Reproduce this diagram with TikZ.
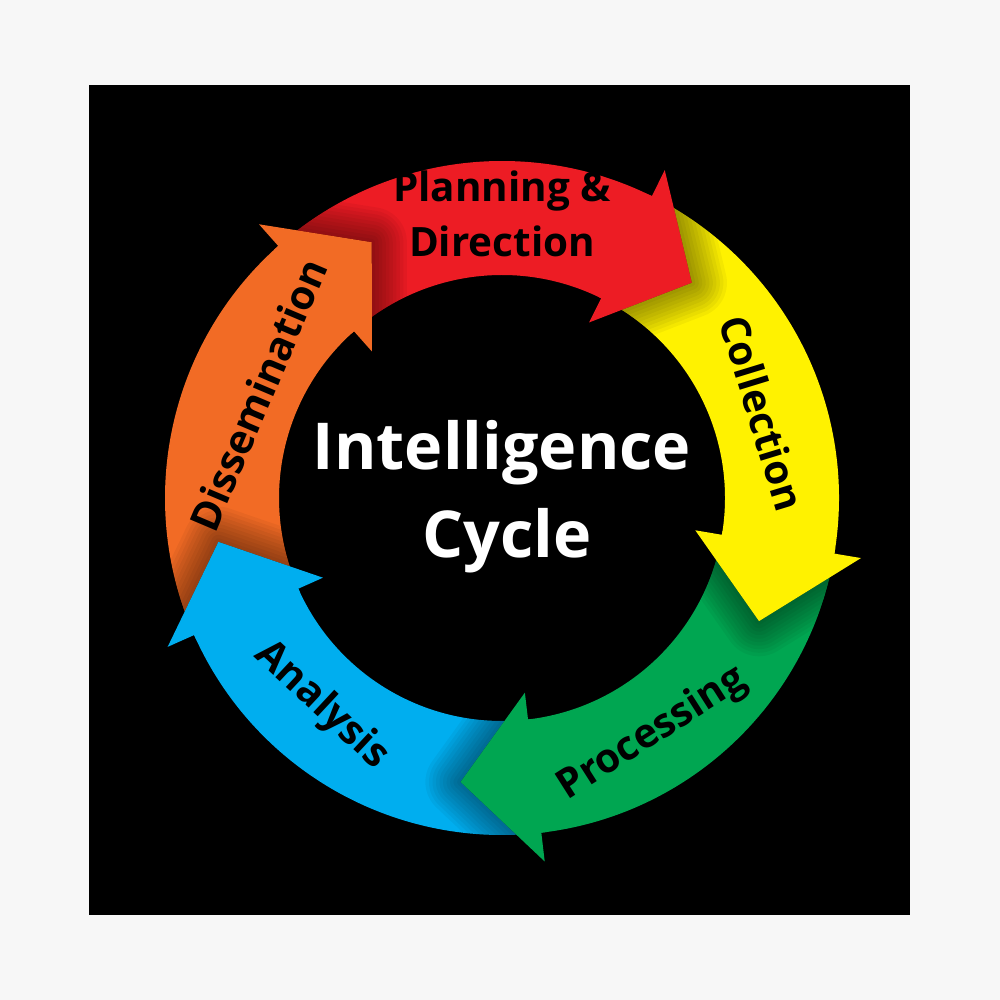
\documentclass[tikz,border=0pt]{standalone}
\usepackage{fontspec}
\setmainfont{Open Sans}
\usepackage{tikz}
\usepackage{xcolor}
\definecolor{pagegrey}{HTML}{F7F7F7}
\definecolor{planred}{HTML}{ED1C24}
\definecolor{collyellow}{HTML}{FFF200}
\definecolor{procgreen}{HTML}{00A651}
\definecolor{anablue}{HTML}{00AEEF}
\definecolor{dissorange}{HTML}{F26B25}

\begin{document}
\begin{tikzpicture}[x=1cm, y=1cm,
  lbl/.style={font=\fontsize{11.5}{13}\selectfont\bfseries, text=black, inner sep=0pt},
  title/.style={font=\fontsize{18.4}{22}\selectfont\bfseries, text=white, inner sep=0pt},
  shade/.style={draw=black, fill=black, opacity=0.045, line join=round}]
  \useasboundingbox (0,0) rectangle (10,10);
  \fill[pagegrey] (0,0) rectangle (10,10);
  \fill[black] (0.89,0.85) rectangle (9.10,9.15);

  \begin{scope}[shift={(5.02,5.02)}]
  % ring pieces
  \fill[planred] (131.6:3.37) arc[start angle=131.6, end angle=63.6, radius=3.37]
    -- (63.6:2.23) arc[start angle=63.6, end angle=131.6, radius=2.23] -- cycle;
  \fill[collyellow] (63.6:3.37) arc[start angle=63.6, end angle=-9.5, radius=3.37]
    -- (-9.5:2.23) arc[start angle=-9.5, end angle=63.6, radius=2.23] -- cycle;
  \fill[procgreen] (-9.5:3.37) arc[start angle=-9.5, end angle=-83.3, radius=3.37]
    -- (-83.3:2.23) arc[start angle=-83.3, end angle=-9.5, radius=2.23] -- cycle;
  \fill[anablue] (-83.3:3.37) arc[start angle=-83.3, end angle=-156, radius=3.37]
    -- (-156:2.23) arc[start angle=-156, end angle=-83.3, radius=2.23] -- cycle;
  \fill[dissorange] (-156:3.37) arc[start angle=-156, end angle=-228.4, radius=3.37]
    -- (-228.4:2.23) arc[start angle=-228.4, end angle=-156, radius=2.23] -- cycle;

  % soft shadows of the heads
  \begin{scope}
    \clip (63.6:3.37) arc[start angle=63.6, end angle=25, radius=3.37]
      -- (25:2.23) arc[start angle=25, end angle=63.6, radius=2.23] -- cycle;
    \foreach \w in {2,4,...,20}
      \draw[shade, line width=\w pt] (63.6:3.66) -- (48.6:2.87) -- (63.6:1.96) -- cycle;
  \end{scope}
  \begin{scope}
    \clip (-9.5:3.37) arc[start angle=-9.5, end angle=-50, radius=3.37]
      -- (-50:2.23) arc[start angle=-50, end angle=-9.5, radius=2.23] -- cycle;
    \foreach \w in {2,4,...,20}
      \draw[shade, line width=\w pt] (-9.5:3.64) -- (-25.6:2.85) -- (-9.5:1.96) -- cycle;
  \end{scope}
  \begin{scope}
    \clip (-83.3:3.37) arc[start angle=-83.3, end angle=-125, radius=3.37]
      -- (-125:2.23) arc[start angle=-125, end angle=-83.3, radius=2.23] -- cycle;
    \foreach \w in {2,4,...,20}
      \draw[shade, line width=\w pt] (-83.3:3.66) -- (-98.3:2.87) -- (-83.3:1.96) -- cycle;
  \end{scope}
  \begin{scope}
    \clip (-156:3.37) arc[start angle=-156, end angle=-195, radius=3.37]
      -- (-195:2.23) arc[start angle=-195, end angle=-156, radius=2.23] -- cycle;
    \foreach \w in {2,4,...,20}
      \draw[shade, line width=\w pt] (-156:3.66) -- (-171.2:2.87) -- (-156:1.96) -- cycle;
  \end{scope}
  \begin{scope}
    \clip (131.6:3.37) arc[start angle=131.6, end angle=95, radius=3.37]
      -- (95:2.23) arc[start angle=95, end angle=131.6, radius=2.23] -- cycle;
    \foreach \w in {2,4,...,20}
      \draw[shade, line width=\w pt] (131.6:3.66) -- (117:2.87) -- (131.6:1.96) -- cycle;
  \end{scope}

  % arrow heads (reaching a little back over their own piece)
  \fill[planred] (64.6:3.37) -- (63.6:3.37) -- (63.6:3.66) -- (48.6:2.87)
    -- (63.6:1.96) -- (63.6:2.23) -- (64.6:2.23) -- cycle;
  \fill[collyellow] (-8.5:3.37) -- (-9.5:3.37) -- (-9.5:3.64) -- (-25.6:2.85)
    -- (-9.5:1.96) -- (-9.5:2.23) -- (-8.5:2.23) -- cycle;
  \fill[procgreen] (-82.3:3.37) -- (-83.3:3.37) -- (-83.3:3.66) -- (-98.3:2.87)
    -- (-83.3:1.96) -- (-83.3:2.23) -- (-82.3:2.23) -- cycle;
  \fill[anablue] (-155:3.37) -- (-156:3.37) -- (-156:3.66) -- (-171.2:2.87)
    -- (-156:1.96) -- (-156:2.23) -- (-155:2.23) -- cycle;
  \fill[dissorange] (132.6:3.37) -- (131.6:3.37) -- (131.6:3.66) -- (117:2.87)
    -- (131.6:1.96) -- (131.6:2.23) -- (132.6:2.23) -- cycle;

  % labels
  \node[lbl, anchor=base] (plan1) at (0,2.96) {Planning \&};
  \node[lbl, anchor=base] (plan2) at (0,2.41) {Direction};
  \node[lbl, rotate=-73] (coll) at (18:2.74) {Collection};
  \node[lbl, rotate=32.5] (proc) at (-57.5:2.80) {Processing};
  \node[lbl, rotate=-43] (ana) at (-131:2.75) {Analysis};
  \node[lbl, rotate=67] (diss) at (157:2.65) {Dissemination};

  \node[title, anchor=base] (intel) at (0,0.28) {Intelligence};
  \node[title, anchor=base] (cycle) at (0.05,-0.60) {Cycle};
  \end{scope}
\end{tikzpicture}
\end{document}
